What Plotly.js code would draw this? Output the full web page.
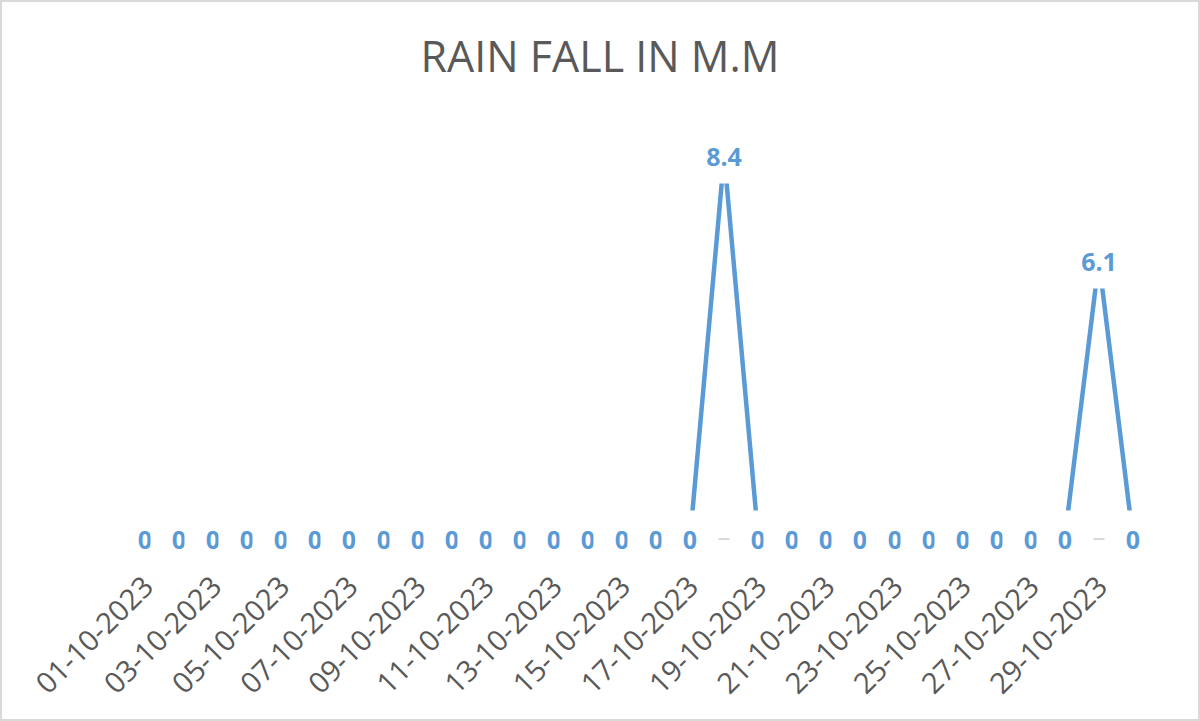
<!DOCTYPE html>
<html>
<head>
<meta charset="utf-8">
<script src="https://cdn.plot.ly/plotly-3.0.1.min.js"></script>
<style>
  html, body { margin: 0; padding: 0; background: #ffffff; }
  #chart { width: 1200px; height: 721px; box-sizing: border-box; border: 2px solid #d9d9d9; }
</style>
</head>
<body>
<div id="chart"></div>
<script>
const chartTitle = 'RAIN FALL IN M.M';
const dates = [
  '01-10-2023','02-10-2023','03-10-2023','04-10-2023','05-10-2023','06-10-2023',
  '07-10-2023','08-10-2023','09-10-2023','10-10-2023','11-10-2023','12-10-2023',
  '13-10-2023','14-10-2023','15-10-2023','16-10-2023','17-10-2023','18-10-2023',
  '19-10-2023','20-10-2023','21-10-2023','22-10-2023','23-10-2023','24-10-2023',
  '25-10-2023','26-10-2023','27-10-2023','28-10-2023','29-10-2023','30-10-2023'
];
const rainfall = [
  0, 0, 0, 0, 0, 0,
  0, 0, 0, 0, 0, 0,
  0, 0, 0, 0, 0, 8.4,
  0, 0, 0, 0, 0, 0,
  0, 0, 0, 0, 6.1, 0
];
const tickLabels = [
  '01-10-2023','03-10-2023','05-10-2023','07-10-2023','09-10-2023',
  '11-10-2023','13-10-2023','15-10-2023','17-10-2023','19-10-2023',
  '21-10-2023','23-10-2023','25-10-2023','27-10-2023','29-10-2023'
];

const blue = '#5B9BD5';
const grey = '#595959';

const trace = {
  x: dates,
  y: rainfall,
  type: 'scatter',
  mode: 'lines',
  line: { color: blue, width: 4.5 },
  hoverinfo: 'none',
  cliponaxis: false
};

const labelAnnotations = dates.map((d, i) => ({
  x: d,
  y: rainfall[i],
  xref: 'x',
  yref: 'y',
  text: String(rainfall[i]),
  showarrow: false,
  xanchor: 'center',
  yanchor: 'middle',
  bgcolor: '#ffffff',
  borderpad: 0,
  width: 56,
  height: 55,
  font: { family: 'Open Sans, sans-serif', size: 25, color: blue, weight: 'bold' }
}));

const layout = {
  width: 1196,
  height: 717,
  paper_bgcolor: '#ffffff',
  plot_bgcolor: '#ffffff',
  margin: { l: 126, r: 48, t: 81, b: 181 },
  showlegend: false,
  title: {
    text: chartTitle,
    x: 0.5,
    xanchor: 'center',
    y: 1 - 55 / 717,
    yanchor: 'middle',
    yref: 'container',
    font: { family: 'Open Sans, sans-serif', size: 43, color: grey }
  },
  xaxis: {
    type: 'category',
    range: [-0.5, 29.5],
    tickmode: 'array',
    tickvals: tickLabels,
    ticktext: tickLabels,
    tickangle: -45,
    ticks: '',
    ticklabelstandoff: 18,
    tickfont: { family: 'Open Sans, sans-serif', size: 29, color: grey },
    showline: true,
    linecolor: '#d9d9d9',
    linewidth: 2,
    showgrid: false,
    zeroline: false,
    fixedrange: true
  },
  yaxis: {
    range: [0, 10],
    showticklabels: false,
    showgrid: false,
    zeroline: false,
    showline: false,
    ticks: '',
    fixedrange: true
  },
  annotations: labelAnnotations
};

Plotly.newPlot('chart', [trace], layout, { displayModeBar: false, staticPlot: true });
</script>
</body>
</html>
